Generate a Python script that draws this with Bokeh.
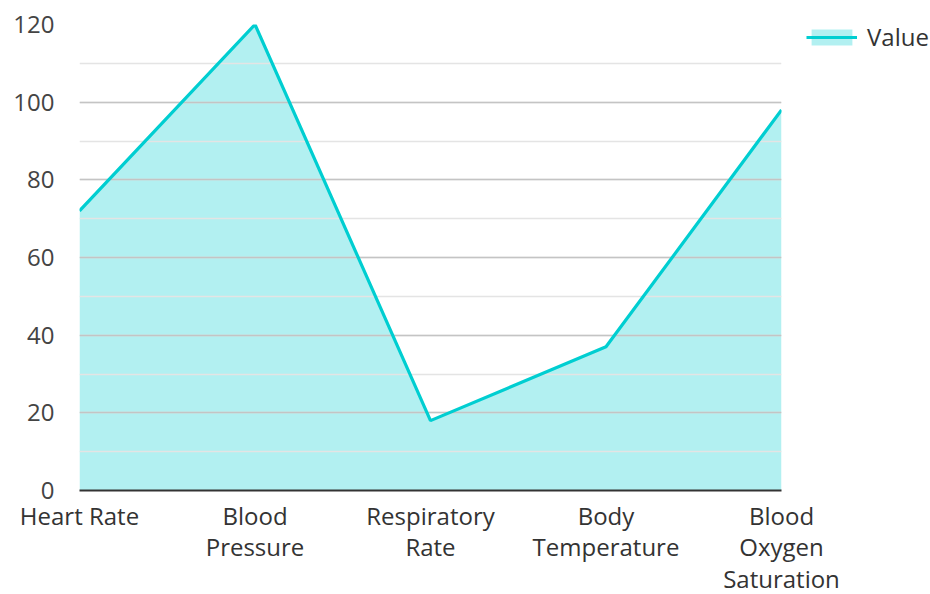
from bokeh.plotting import figure
from bokeh.models import Range1d, SingleIntervalTicker, FixedTicker, Legend, LegendItem
from bokeh.embed import file_html
from bokeh.resources import INLINE

categories = ["Heart Rate", "Blood Pressure", "Respiratory Rate", "Body Temperature", "Blood Oxygen Saturation"]
tick_labels = ["Heart Rate", "Blood\nPressure", "Respiratory\nRate", "Body\nTemperature", "Blood\nOxygen\nSaturation"]
values = [72, 120, 18, 37, 98]
series_name = "Value"

xs = list(range(len(categories)))

FRAME_H = 466
p = figure(frame_width=702, frame_height=FRAME_H, output_backend="svg", toolbar_location=None,
           x_range=Range1d(0, len(categories) - 1), y_range=Range1d(0, 120),
           min_border_left=79, min_border_top=24, min_border_bottom=100, min_border_right=141)
p.outline_line_color = None

area = p.varea(x=xs, y1=[0] * len(values), y2=values, fill_color="#00CED1", fill_alpha=0.3, level="image")
line = p.line(x=xs, y=values, line_color="#00CED1", line_width=3.2)

p.xaxis.ticker = FixedTicker(ticks=xs)
p.xaxis.major_label_overrides = {i: t for i, t in zip(xs, tick_labels)}
p.xaxis.axis_line_color = "#333333"
p.xaxis.axis_line_width = 2
p.xaxis.major_tick_line_color = None
p.xaxis.minor_tick_line_color = None
p.xaxis.major_label_standoff = 2
p.xaxis.major_label_text_font = "Open Sans"
p.xaxis.major_label_text_font_size = "24px"
p.xaxis.major_label_text_color = "#333333"
p.xaxis.major_label_text_line_height = 0.96

p.yaxis.ticker = SingleIntervalTicker(interval=20, num_minor_ticks=2)
p.yaxis.axis_line_color = None
p.yaxis.major_tick_line_color = None
p.yaxis.minor_tick_line_color = None
p.yaxis.major_label_standoff = 19
p.yaxis.major_label_text_font = "Open Sans"
p.yaxis.major_label_text_font_size = "24px"
p.yaxis.major_label_text_color = "#444444"

p.xgrid.grid_line_color = None
p.ygrid.grid_line_color = "#c4c4c4"
p.ygrid.grid_line_width = 1.5
p.ygrid.minor_grid_line_color = "#e4e4e4"
p.ygrid.minor_grid_line_width = 1.5

legend = Legend(items=[LegendItem(label=series_name, renderers=[area, line])],
                location=(25, FRAME_H - 9 - 20), border_line_color=None, background_fill_alpha=0,
                label_text_font="Open Sans", label_text_font_size="24px",
                label_text_color="#333333", glyph_width=51, glyph_height=20,
                label_height=20, padding=0, margin=0, label_standoff=10)
p.add_layout(legend, "right")

open("out.html", "w").write(file_html(p, INLINE))
